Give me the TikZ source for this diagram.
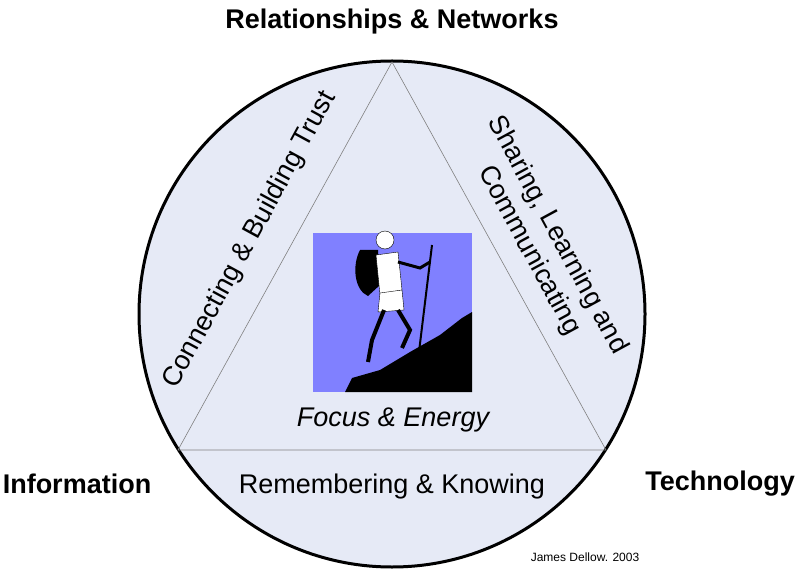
\documentclass[tikz,border=0pt]{standalone}
\usepackage{fontspec}
\setmainfont{Liberation Sans}
\begin{document}
\begin{tikzpicture}[x=1pt,y=-1pt,
  lab/.style={font=\fontsize{27}{32}\selectfont, align=center},
  corner/.style={font=\bfseries\fontsize{27}{32}\selectfont}]
\useasboundingbox (0,0) rectangle (800,577);
\node[circle, draw=black, line width=3pt, fill={rgb,255:red,230;green,234;blue,246}, minimum size=506pt, inner sep=0pt] (c) at (392,314) {};
\coordinate (t) at (392,62);
\coordinate (bl) at (178,450);
\coordinate (br) at (606,450);
\draw[gray, line width=0.6pt] (t) -- (bl) -- (br) -- cycle;
% picture
\node[fill={rgb,255:red,128;green,128;blue,255}, minimum size=159pt, inner sep=0pt, anchor=north west] (img) at (313,233) {};
\fill[black] (345,392) -- (352,378) -- (380,370) -- (410,352) -- (440,335) -- (462,318) -- (472,312) -- (472,392) -- cycle;
\draw[black, line width=2pt] (432,245) -- (418,360);
\fill[black] (360,250) .. controls (352,265) and (354,290) .. (368,296) -- (380,285) -- (378,250) -- cycle;
\fill[white, draw=black] (385,240) circle (9pt);
\fill[white, draw=black] (376,255) -- (398,252) -- (402,290) -- (380,295) -- cycle;
\fill[white, draw=black] (380,293) -- (402,290) -- (404,310) -- (378,312) -- cycle;
\draw[black, line width=4pt] (384,310) -- (372,340) -- (368,362);
\draw[black, line width=4pt] (398,310) -- (410,330) -- (402,348);
\draw[black, line width=3pt] (398,262) -- (420,268) -- (430,262);
% texts
\node[corner] (top) at (392,22) {Relationships \& Networks};
\node[corner] (inf) at (77,484) {Information};
\node[corner] (tec) at (720,484) {Technology};
\node[lab, font=\itshape\fontsize{27}{32}\selectfont] (fe) at (393,420) {Focus \& Energy};
\node[lab] (rk) at (392,487) {Remembering \& Knowing};
\node[lab, rotate=61.5] (cb) at (250,240) {Connecting \& Building Trust};
\node[lab, rotate=-61.5] (sl) at (543,243) {Sharing, Learning and\\Communicating};
\node[font=\fontsize{12}{14}\selectfont] (jd) at (585,557) {James Dellow. 2003};
\end{tikzpicture}
\end{document}
